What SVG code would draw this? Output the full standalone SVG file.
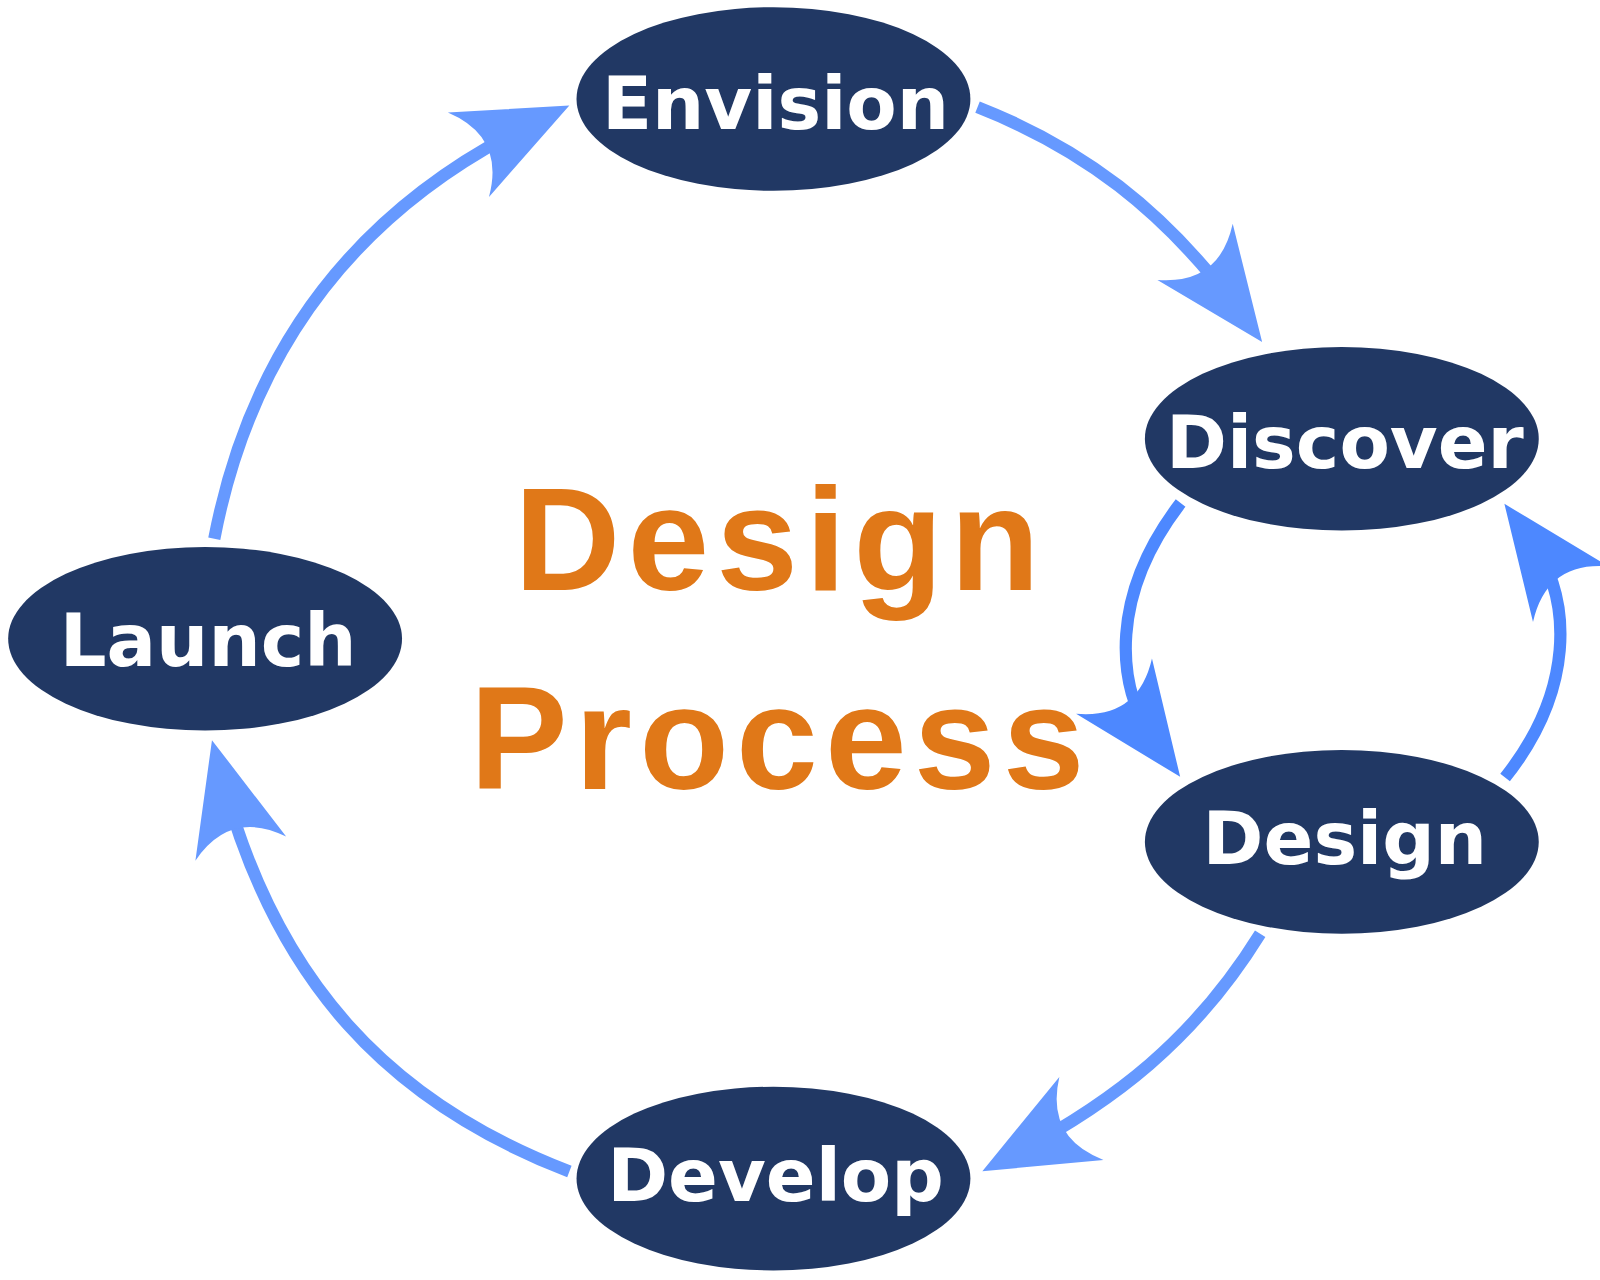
<svg xmlns="http://www.w3.org/2000/svg" width="1600" height="1280" viewBox="0 0 1600 1280">
<style>
.node{fill:#213864}
.nt{font-family:"DejaVu Sans",sans-serif;font-weight:bold;font-size:72px;fill:#fff;text-anchor:middle}
.title{font-family:"Liberation Sans",Arial,sans-serif;font-weight:bold;font-size:144px;fill:#E07818;text-anchor:middle;letter-spacing:7px}
.a{fill:none;stroke:#6699FF;stroke-width:12}
.b{fill:none;stroke:#4D88FF;stroke-width:12}
</style>
<defs>
<marker id="h" markerUnits="userSpaceOnUse" markerWidth="170" markerHeight="110" refX="-40" refY="0" viewBox="-120 -55 130 110" orient="auto" overflow="visible">
<path d="M0,0 L-110,-46 Q-70,0 -110,46 Z" fill="#6699FF"/>
</marker>
<marker id="h2" markerUnits="userSpaceOnUse" markerWidth="170" markerHeight="110" refX="-40" refY="0" viewBox="-120 -55 130 110" orient="auto" overflow="visible">
<path d="M0,0 L-110,-46 Q-70,0 -110,46 Z" fill="#4D88FF"/>
</marker>
</defs>
<rect width="1600" height="1280" fill="#fff"/>
<g transform="scale(1.0204)">
<g id="connectors">
<path class="a" d="M958,105 C1060,145 1140,205 1213,303" marker-end="url(#h)"/>
<path class="b" d="M1157,493 C1090,580 1090,670 1133,729" marker-end="url(#h2)"/>
<path class="b" d="M1475,762 C1540,680 1545,590 1498,526" marker-end="url(#h2)"/>
<path class="a" d="M1235,915 C1170,1020 1090,1080 998,1129" marker-end="url(#h)"/>
<path class="a" d="M558,1148 C380,1080 270,960 218,764" marker-end="url(#h)"/>
<path class="a" d="M210,528 C250,320 370,195 522,121" marker-end="url(#h)"/>
</g>
<g id="envision"><ellipse class="node" cx="758" cy="97" rx="193" ry="90"/><text class="nt" x="760" y="126">Envision</text></g>
<g id="discover"><ellipse class="node" cx="1315" cy="430" rx="193" ry="90"/><text class="nt" x="1318" y="459">Discover</text></g>
<g id="design"><ellipse class="node" cx="1315" cy="825" rx="193" ry="90"/><text class="nt" x="1318" y="847">Design</text></g>
<g id="develop"><ellipse class="node" cx="758" cy="1155" rx="193" ry="90"/><text class="nt" x="760" y="1177">Develop</text></g>
<g id="launch"><ellipse class="node" cx="201" cy="626" rx="193" ry="90"/><text class="nt" x="204" y="653">Launch</text></g>
<g id="title"><text class="title" x="765" y="578">Design</text><text class="title" x="765" y="773">Process</text></g>
</g>
</svg>
